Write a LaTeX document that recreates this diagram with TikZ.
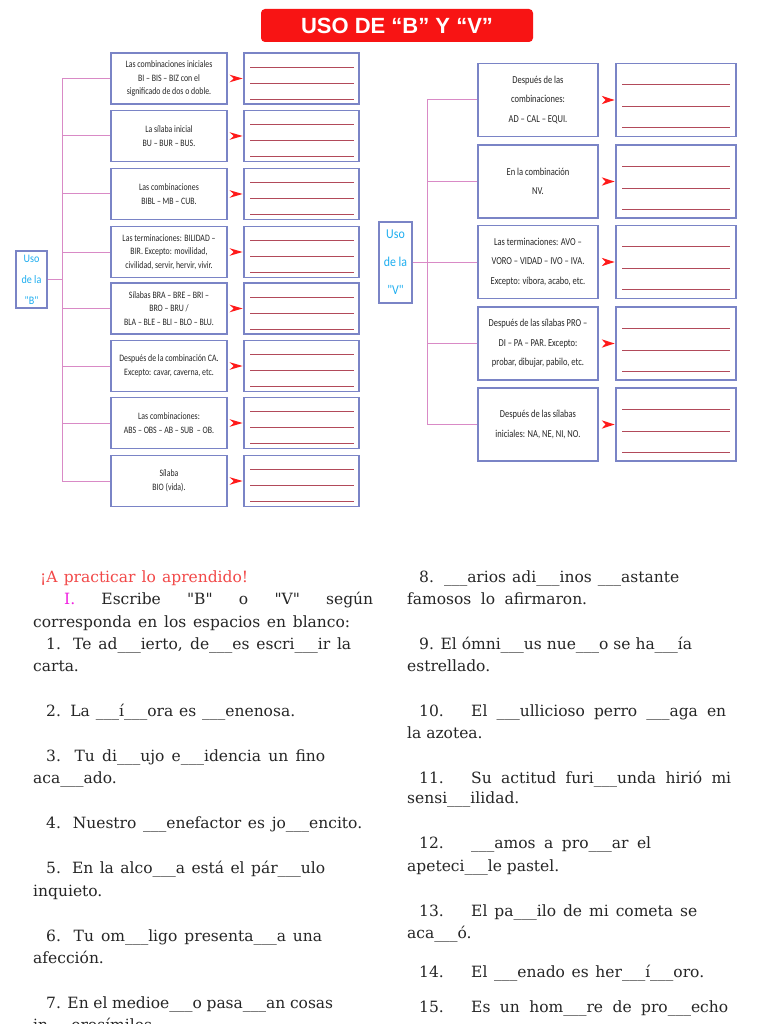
\documentclass[tikz,border=0pt]{standalone}
\usepackage{fontspec}
\usetikzlibrary{calc}
\setmainfont{DejaVu Serif}
\newfontfamily\bodyfont{DejaVu Serif}
\newfontfamily\boxfont[FakeStretch=0.8]{Carlito}
\newfontfamily\usofont[FakeStretch=0.88]{Carlito}
\newfontfamily\titlefont{Liberation Sans}
\definecolor{titlered}{HTML}{F81414}
\definecolor{boxblue}{HTML}{7A84C6}
\definecolor{connpink}{HTML}{D98AC6}
\definecolor{ansred}{HTML}{B24A5A}
\definecolor{arrred}{HTML}{FF1A1A}
\definecolor{usoblue}{HTML}{1EAEF0}
\definecolor{coral}{HTML}{F24848}
\definecolor{mag}{HTML}{F020E0}
\definecolor{ink}{HTML}{262626}
\tikzset{
  lbox/.style={draw=boxblue, line width=1.2pt, minimum width=116pt, minimum height=51pt, inner sep=0pt, align=center, text=ink, font=\boxfont\fontsize{9.8}{13.5}\selectfont},
  rbox/.style={draw=boxblue, line width=1.2pt, minimum width=120pt, minimum height=73pt, inner sep=0pt, align=center, text=ink, font=\boxfont\fontsize{10.6}{19.5}\selectfont},
  labox/.style={draw=boxblue, line width=1.2pt, minimum width=115pt, minimum height=51pt, inner sep=0pt},
  rabox/.style={draw=boxblue, line width=1.2pt, minimum width=120pt, minimum height=73pt, inner sep=0pt},
  usobox/.style={draw=boxblue, line width=1.2pt, inner sep=0pt, align=center, text=usoblue},
  conn/.style={draw=connpink, line width=1pt},
  ans/.style={draw=ansred, line width=0.9pt},
  arrhead/.style={fill=arrred},
  txt/.style={anchor=base west, inner sep=0pt, font=\bodyfont\fontsize{15.5}{18}\selectfont, text=ink}
}
\begin{document}
\begin{tikzpicture}[x=1pt,y=-1pt]
\useasboundingbox[fill=white] (0,0) rectangle (768,1024);

% title
\node[fill=titlered, rounded corners=4pt, minimum width=272pt, minimum height=33pt, inner sep=0pt, text=white, font=\titlefont\bfseries\fontsize{22}{22}\selectfont] (title) at (397,25.5) {USO DE “B” Y “V”};

% ---------- left: B ----------
\node[usobox, minimum width=31pt, minimum height=57pt, font=\usofont\fontsize{11.5}{21}\selectfont] (usoB) at (31.5,279.5) {Uso\\de la\\"B"};

\node[lbox] (L1) at (169,78.5) {Las combinaciones iniciales\\BI – BIS – BIZ con el\\significado de dos o doble.};
\node[lbox] (L2) at (169,136) {La sílaba inicial\\BU – BUR – BUS.};
\node[lbox] (L3) at (169,194) {Las combinaciones\\BIBL – MB – CUB.};
\node[lbox] (L4) at (169,252) {Las terminaciones: BILIDAD –\\BIR. Excepto: movilidad,\\civilidad, servir, hervir, vivir.};
\node[lbox] (L5) at (169,308.5) {Sílabas BRA – BRE – BRI –\\BRO – BRU /\\BLA – BLE – BLI – BLO – BLU.};
\node[lbox] (L6) at (169,366) {Después de la combinación CA.\\Excepto: cavar, caverna, etc.};
\node[lbox] (L7) at (169,423) {Las combinaciones:\\ABS – OBS – AB – SUB \ – OB.};
\node[lbox] (L8) at (169,481) {Sílaba\\BIO (vida).};

\foreach \i/\y in {1/78.5,2/136,3/194,4/252,5/308.5,6/366,7/423,8/481}{
  \node[labox] (LA\i) at (301.5,\y) {};
}

\coordinate (jB) at (62,279.5);
\draw[conn] (usoB.east) -- (jB);
\foreach \i in {1,...,8}{
  \draw[conn] (jB) |- (L\i.west);
  \fill[arrhead] ($(L\i.east)+(2,-3.8)$) -- ($(L\i.east)+(15,0)$) -- ($(L\i.east)+(2,3.8)$) -- ($(L\i.east)+(6,0)$) -- cycle;
  \foreach \d in {15,31,47}{
    \draw[ans] ($(LA\i.north west)+(7,\d)$) -- ($(LA\i.north east)+(-6,\d)$);
  }
}

% ---------- right: V ----------
\node[usobox, minimum width=33pt, minimum height=81pt, font=\usofont\fontsize{13.5}{28}\selectfont] (usoV) at (395.5,262.5) {Uso\\de la\\"V"};

\node[rbox] (R1) at (538,100) {Después de las\\combinaciones:\\AD – CAL – EQUI.};
\node[rbox] (R2) at (538,181.5) {En la combinación\\NV.};
\node[rbox] (R3) at (538,262) {Las terminaciones: AVO –\\VORO – VIDAD – IVO – IVA.\\Excepto: víbora, acabo, etc.};
\node[rbox] (R4) at (538,343.5) {Después de las sílabas PRO –\\DI – PA – PAR. Excepto:\\probar, dibujar, pabilo, etc.};
\node[rbox] (R5) at (538,424.5) {Después de las sílabas\\iniciales: NA, NE, NI, NO.};

\foreach \i/\y in {1/100,2/181.5,3/262,4/343.5,5/424.5}{
  \node[rabox] (RA\i) at (676,\y) {};
}

\coordinate (jV) at (427,262.5);
\draw[conn] (usoV.east) -- (jV);
\foreach \i in {1,...,5}{
  \draw[conn] (jV) |- (R\i.west);
  \fill[arrhead] ($(R\i.east)+(3,-4.2)$) -- ($(R\i.east)+(16,0)$) -- ($(R\i.east)+(3,4.2)$) -- ($(R\i.east)+(7,0)$) -- cycle;
  \foreach \d in {22,44,65}{
    \draw[ans] ($(RA\i.north west)+(7,\d)$) -- ($(RA\i.north east)+(-7,\d)$);
  }
}

% ---------- exercise text: left column ----------
\node[txt, text=coral] (h1) at (40,582) {\makebox[208pt][s]{¡A practicar lo aprendido!}};
\node[txt] (p1) at (64,604) {\makebox[309pt][s]{{\color{mag}I.} Escribe "B" o "V" según}};
\node[txt] (p2) at (33,627) {\makebox[317pt][s]{corresponda en los espacios en blanco:}};
\node[txt] (e1a) at (46,649) {\makebox[305pt][s]{1. Te ad\_\_\_ierto, de\_\_\_es escri\_\_\_ir la}};
\node[txt] (e1b) at (33,671) {carta.};
\node[txt] (e2) at (46,716) {\makebox[249pt][s]{2. La \_\_\_í\_\_\_ora es \_\_\_enenosa.}};
\node[txt] (e3a) at (46,761) {\makebox[279pt][s]{3. Tu di\_\_\_ujo e\_\_\_idencia un fino}};
\node[txt] (e3b) at (33,783) {aca\_\_\_ado.};
\node[txt] (e4) at (46,828) {\makebox[316pt][s]{4. Nuestro \_\_\_enefactor es jo\_\_\_encito.}};
\node[txt] (e5a) at (46,873) {\makebox[279pt][s]{5. En la alco\_\_\_a está el pár\_\_\_ulo}};
\node[txt] (e5b) at (33,896) {inquieto.};
\node[txt] (e6a) at (46,941) {\makebox[276pt][s]{6. Tu om\_\_\_ligo presenta\_\_\_a una}};
\node[txt] (e6b) at (33,963) {afección.};
\node[txt] (e7a) at (46,1008) {\makebox[287pt][s]{7. En el medioe\_\_\_o pasa\_\_\_an cosas}};
\node[txt] (e7b) at (33,1030) {in\_\_\_erosímiles.};

% ---------- exercise text: right column ----------
\node[txt] (e8a) at (419,582) {\makebox[260pt][s]{8. \_\_\_arios adi\_\_\_inos \_\_\_astante}};
\node[txt] (e8b) at (407,604) {\makebox[180pt][s]{famosos lo afirmaron.}};
\node[txt] (e9a) at (419,649) {\makebox[273pt][s]{9. El ómni\_\_\_us nue\_\_\_o se ha\_\_\_ía}};
\node[txt] (e9b) at (407,671) {estrellado.};
\node[txt] (n10) at (419,716) {10.};
\node[txt] (e10a) at (471,716) {\makebox[255pt][s]{El \_\_\_ullicioso perro \_\_\_aga en}};
\node[txt] (e10b) at (407,738) {la azotea.};
\node[txt] (n11) at (419,783) {11.};
\node[txt] (e11a) at (471,783) {\makebox[260pt][s]{Su actitud furi\_\_\_unda hirió mi}};
\node[txt] (e11b) at (407,803) {sensi\_\_\_ilidad.};
\node[txt] (n12) at (419,848) {12.};
\node[txt] (e12a) at (471,848) {\makebox[180pt][s]{\_\_\_amos a pro\_\_\_ar el}};
\node[txt] (e12b) at (407,871) {apeteci\_\_\_le pastel.};
\node[txt] (n13) at (419,916) {13.};
\node[txt] (e13a) at (471,916) {\makebox[226pt][s]{El pa\_\_\_ilo de mi cometa se}};
\node[txt] (e13b) at (407,938) {aca\_\_\_ó.};
\node[txt] (n14) at (419,977) {14.};
\node[txt] (e14) at (471,977) {\makebox[233pt][s]{El \_\_\_enado es her\_\_\_í\_\_\_oro.}};
\node[txt] (n15) at (419,1012) {15.};
\node[txt] (e15) at (471,1012) {\makebox[257pt][s]{Es un hom\_\_\_re de pro\_\_\_echo}};
\end{tikzpicture}
\end{document}
